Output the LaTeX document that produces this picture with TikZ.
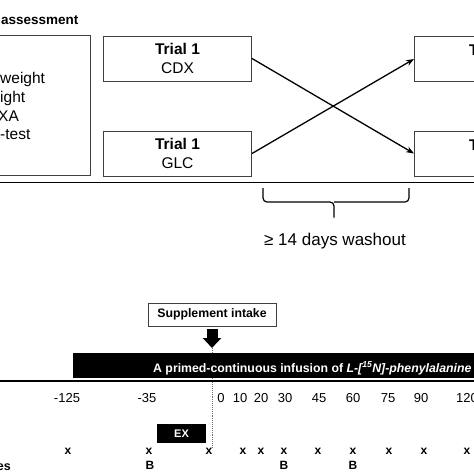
\documentclass[tikz,border=0pt]{standalone}
\usepackage{fontspec}
\setmainfont{Liberation Sans}
\usetikzlibrary{arrows.meta}
\definecolor{boxgray}{HTML}{404040}
\definecolor{dotgray}{HTML}{707070}
\begin{document}
\begin{tikzpicture}[x=1pt,y=-1pt,
  box/.style={draw=boxgray, line width=1pt, inner sep=0pt, anchor=north west},
  trialbox/.style={box, minimum width=148pt, minimum height=45pt, align=center,
    font=\fontsize{15.5}{19}\selectfont},
  bigtxt/.style={font=\fontsize{15.5}{19}\selectfont, inner sep=0pt, anchor=base west},
  numtxt/.style={font=\fontsize{13}{15}\selectfont, inner sep=0pt, anchor=base},
  marktxt/.style={font=\bfseries\fontsize{12}{14}\selectfont, inner sep=0pt, anchor=base},
  crossarrow/.style={line width=1.3pt, -{Stealth[length=8pt,width=6pt]}},
  bracepath/.style={line width=1.2pt, rounded corners=4pt},
]
\useasboundingbox (0,0) rectangle (474,474);
\clip (0,0) rectangle (474,474);

% ---------- top part ----------
\node[font=\bfseries\fontsize{13.5}{16}\selectfont, inner sep=0pt, anchor=base west] (hdr) at (1,24) {assessment};
\node[box, minimum width=96pt, minimum height=140pt] (basebox) at (-6,35) {};
\node[bigtxt] (l1) at (0,83) {weight};
\node[bigtxt] (l2) at (0,102) {ight};
\node[bigtxt] (l3) at (-2,121) {XA};
\node[bigtxt] (l4) at (0,139.5) {-test};

\node[trialbox] (cdx1) at (103,35.5) {\textbf{Trial 1}\\CDX};
\node[trialbox] (glc1) at (103,130.5) {\textbf{Trial 1}\\GLC};
\node[trialbox] (cdx2) at (414,36) {};
\node[trialbox] (glc2) at (414,130.5) {};
\node[font=\bfseries\fontsize{15.5}{19}\selectfont, inner sep=0pt, anchor=base west] (t2a) at (469,55) {T};
\node[font=\bfseries\fontsize{15.5}{19}\selectfont, inner sep=0pt, anchor=base west] (t2b) at (469,150) {T};

\draw[crossarrow] (cdx1.east) -- (glc2.west);
\draw[crossarrow] (glc1.east) -- (cdx2.west);

\draw[line width=1.8pt] (0,182.5) -- (474,182.5);

\draw[bracepath] (263,188) -- (263,202) -- (334,202) -- (334,217.5);
\draw[bracepath] (409,188) -- (409,202) -- (334,202);
\node[font=\fontsize{17}{20}\selectfont, inner sep=0pt, anchor=base] (wash) at (335,245) {≥ 14 days washout};

% ---------- bottom part ----------
\coordinate (dtop) at (212,348);
\coordinate (dbot) at (212,448);
\draw[densely dotted, line width=0.9pt, dotgray] (dtop) -- (dbot);

\node[fill=black, inner sep=0pt, anchor=north west, minimum width=430pt, minimum height=24.5pt] (bar) at (73,353) {};
\node[font=\bfseries\fontsize{12.3}{14}\selectfont, text=white, inner sep=0pt, anchor=base west] (bartext) at (153,372)
  {A primed-continuous infusion of \textit{L-[\textsuperscript{15}N]-phenylalanine}};

\node[draw=boxgray, line width=1pt, fill=white, minimum width=128pt, minimum height=23pt, inner sep=0pt,
  font=\bfseries\fontsize{12.3}{14}\selectfont] (supp) at (212,314.5) {Supplement intake};
\draw[line width=11pt, -{Triangle[length=10pt,width=18pt]}, shorten <=2pt, shorten >=5pt]
  (supp.south) -- (bar.north -| supp.south);

\draw[line width=1.6pt] (0,381) -- (474,381);

\node[numtxt] (n1) at (67,402) {-125};
\node[numtxt] (n2) at (147,402) {-35};
\node[numtxt] (n3) at (221,402) {0};
\node[numtxt] (n4) at (240,402) {10};
\node[numtxt] (n5) at (261,402) {20};
\node[numtxt] (n6) at (285,402) {30};
\node[numtxt] (n7) at (319,402) {45};
\node[numtxt] (n8) at (353,402) {60};
\node[numtxt] (n9) at (388,402) {75};
\node[numtxt] (n10) at (421,402) {90};
\node[numtxt] (n11) at (467,402) {120};

\node[fill=black, text=white, inner sep=0pt, minimum width=49pt, minimum height=19pt,
  font=\bfseries\fontsize{11}{13}\selectfont] (ex) at (181.5,433.5) {EX};

\node[marktxt] (x1) at (68,454) {x};
\node[marktxt] (x2) at (149,454) {x};
\node[marktxt] (x3) at (209,454) {x};
\node[marktxt] (x4) at (243,454) {x};
\node[marktxt] (x5) at (261,454) {x};
\node[marktxt] (x6) at (284,454) {x};
\node[marktxt] (x7) at (318,454) {x};
\node[marktxt] (x8) at (353,454) {x};
\node[marktxt] (x9) at (389,454) {x};
\node[marktxt] (x10) at (424,454) {x};
\node[marktxt] (x11) at (467,454) {x};

\node[marktxt] (b1) at (150,469) {B};
\node[marktxt] (b2) at (284,469) {B};
\node[marktxt] (b3) at (353,469) {B};

\node[font=\bfseries\fontsize{12.5}{14}\selectfont, inner sep=0pt, anchor=base east] (es) at (11,470) {es};
\end{tikzpicture}
\end{document}
